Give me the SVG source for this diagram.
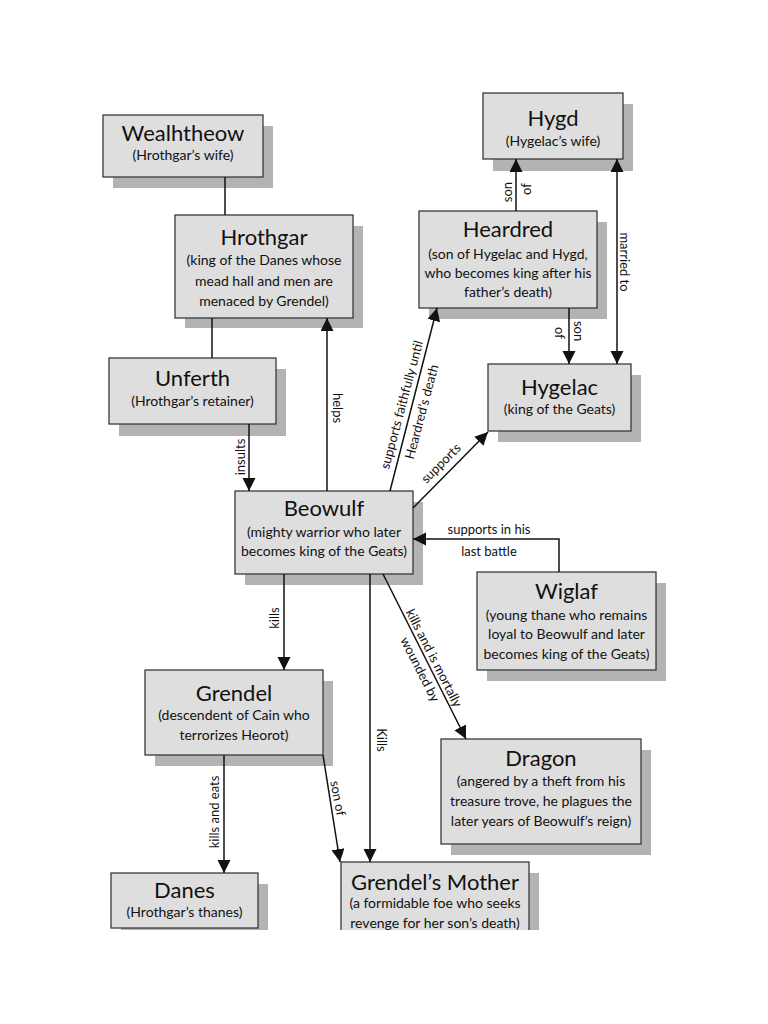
<svg xmlns="http://www.w3.org/2000/svg" width="768" height="1024" viewBox="0 0 768 1024">
<defs>
<style>
.sh{fill:#b3b3b3}
.bx{fill:#dedede;stroke:#3a3a3a;stroke-width:1.3}
.t{font-family:Lato,"Liberation Sans",sans-serif;font-size:22px;fill:#111;text-anchor:middle}
.s{font-family:Lato,"Liberation Sans",sans-serif;font-size:14px;fill:#111;text-anchor:middle}
.l{font-family:Lato,"Liberation Sans",sans-serif;font-size:13px;fill:#111;text-anchor:middle}
.c{fill:none;stroke:#111;stroke-width:1.5}
.a{marker-end:url(#ah)}
</style>
<marker id="ah" markerUnits="userSpaceOnUse" markerWidth="14" markerHeight="14" refX="13" refY="6.5" orient="auto-start-reverse">
<path d="M0,0 L13,6.5 L0,13 z" fill="#111"/>
</marker>
<clipPath id="clipb"><rect x="0" y="0" width="768" height="930"/></clipPath>
</defs>

<g id="wealhtheow">
<rect class="sh" x="113" y="126" width="160" height="62"/>
<rect class="bx" x="103" y="115" width="160" height="62"/>
<text class="t" x="183" y="141">Wealhtheow</text>
<text class="s" x="183" y="160">(Hrothgar’s wife)</text>
</g>

<g id="hrothgar">
<rect class="sh" x="185" y="226" width="178" height="102"/>
<rect class="bx" x="175" y="215" width="178" height="103"/>
<text class="t" x="264" y="245">Hrothgar</text>
<text class="s" x="264" y="265">(king of the Danes whose</text>
<text class="s" x="264" y="286">mead hall and men are</text>
<text class="s" x="264" y="306">menaced by Grendel)</text>
</g>

<g id="hygd">
<rect class="sh" x="493" y="104" width="140" height="67"/>
<rect class="bx" x="483" y="93" width="140" height="66"/>
<text class="t" x="553" y="126">Hygd</text>
<text class="s" x="553" y="146">(Hygelac’s wife)</text>
</g>

<g id="heardred">
<rect class="sh" x="429" y="222" width="178" height="97"/>
<rect class="bx" x="419" y="211" width="178" height="97"/>
<text class="t" x="508" y="237">Heardred</text>
<text class="s" x="508" y="259">(son of Hygelac and Hygd,</text>
<text class="s" x="508" y="278">who becomes king after his</text>
<text class="s" x="508" y="297">father’s death)</text>
</g>

<g id="hygelac">
<rect class="sh" x="498" y="375" width="143" height="67"/>
<rect class="bx" x="488" y="364" width="143" height="67"/>
<text class="t" x="559.5" y="395">Hygelac</text>
<text class="s" x="559.5" y="414">(king of the Geats)</text>
</g>

<g id="unferth">
<rect class="sh" x="119" y="369" width="167" height="67"/>
<rect class="bx" x="109" y="358" width="167" height="66"/>
<text class="t" x="192.5" y="386">Unferth</text>
<text class="s" x="192.5" y="406">(Hrothgar’s retainer)</text>
</g>

<g id="beowulf">
<rect class="sh" x="245" y="502" width="178" height="83"/>
<rect class="bx" x="235" y="491" width="178" height="83"/>
<text class="t" x="324" y="516">Beowulf</text>
<text class="s" x="324" y="537">(mighty warrior who later</text>
<text class="s" x="324" y="556">becomes king of the Geats)</text>
</g>

<g id="wiglaf">
<rect class="sh" x="487" y="583" width="179" height="98"/>
<rect class="bx" x="477" y="572" width="179" height="98"/>
<text class="t" x="566.5" y="599">Wiglaf</text>
<text class="s" x="566.5" y="620">(young thane who remains</text>
<text class="s" x="566.5" y="639">loyal to Beowulf and later</text>
<text class="s" x="566.5" y="659">becomes king of the Geats)</text>
</g>

<g id="grendel">
<rect class="sh" x="155" y="681" width="178" height="85"/>
<rect class="bx" x="145" y="670" width="178" height="85"/>
<text class="t" x="234" y="701">Grendel</text>
<text class="s" x="234" y="720">(descendent of Cain who</text>
<text class="s" x="234" y="740">terrorizes Heorot)</text>
</g>

<g id="dragon">
<rect class="sh" x="451" y="750" width="200" height="105"/>
<rect class="bx" x="441" y="739" width="200" height="105"/>
<text class="t" x="541" y="766">Dragon</text>
<text class="s" x="541" y="786">(angered by a theft from his</text>
<text class="s" x="541" y="806">treasure trove, he plagues the</text>
<text class="s" x="541" y="826">later years of Beowulf’s reign)</text>
</g>

<g id="danes">
<rect class="sh" x="121" y="884" width="147" height="55" clip-path="url(#clipb)"/>
<rect class="bx" x="111" y="873" width="147" height="55"/>
<text class="t" x="184.5" y="898">Danes</text>
<text class="s" x="184.5" y="917">(Hrothgar’s thanes)</text>
</g>

<g id="grendels-mother" clip-path="url(#clipb)">
<rect class="sh" x="351" y="873" width="188" height="90"/>
<rect class="bx" x="341" y="862" width="188" height="90"/>
<text class="t" x="435" y="890">Grendel’s Mother</text>
<text class="s" x="435" y="908">(a formidable foe who seeks</text>
<text class="s" x="435" y="928">revenge for her son’s death)</text>
</g>

<g id="connectors">
<line class="c" x1="225" y1="177" x2="225" y2="215"/>
<line class="c" x1="212" y1="318" x2="212" y2="358"/>
<line class="c a" x1="249" y1="424" x2="249" y2="491"/>
<line class="c a" x1="327" y1="491" x2="327" y2="318"/>
<line class="c a" x1="516" y1="211" x2="516" y2="159"/>
<line class="c a" x1="617" y1="159" x2="617" y2="364" style="marker-start:url(#ah)"/>
<line class="c a" x1="569" y1="308" x2="569" y2="364"/>
<line class="c a" x1="390" y1="491" x2="437" y2="308"/>
<line class="c a" x1="413" y1="508" x2="488" y2="432"/>
<polyline class="c a" points="559,572 559,539 413,539"/>
<line class="c a" x1="284" y1="574" x2="284" y2="670"/>
<line class="c a" x1="370" y1="574" x2="370" y2="862"/>
<line class="c a" x1="383" y1="574" x2="466" y2="739"/>
<line class="c a" x1="224" y1="755" x2="224" y2="873"/>
<line class="c a" x1="323" y1="755" x2="340" y2="862"/>

<text class="l" transform="translate(245,457) rotate(-90)">insults</text>
<text class="l" transform="translate(333,408) rotate(90)">helps</text>
<text class="l" transform="translate(512,192) rotate(-90)">son</text>
<text class="l" transform="translate(531,189) rotate(-90)">of</text>
<text class="l" transform="translate(574,331) rotate(90)">son</text>
<text class="l" transform="translate(555,333) rotate(90)">of</text>
<text class="l" transform="translate(620,262) rotate(90)">married to</text>
<text class="l" transform="translate(406,406) rotate(-75)">supports faithfully until</text>
<text class="l" transform="translate(426,413) rotate(-75)">Heardred’s death</text>
<text class="l" transform="translate(444,466.5) rotate(-45)">supports</text>
<text class="l" x="489" y="534">supports in his</text>
<text class="l" x="489" y="556">last battle</text>
<text class="l" transform="translate(278.5,618) rotate(-90)">kills</text>
<text class="l" transform="translate(376.5,740) rotate(90)">Kills</text>
<text class="l" transform="translate(430,660) rotate(63)">kills and is mortally</text>
<text class="l" transform="translate(416,671.5) rotate(63)">wounded by</text>
<text class="l" transform="translate(218.5,812) rotate(-90)">kills and eats</text>
<text class="l" transform="translate(333.5,799) rotate(79)">son of</text>
</g>
</svg>
